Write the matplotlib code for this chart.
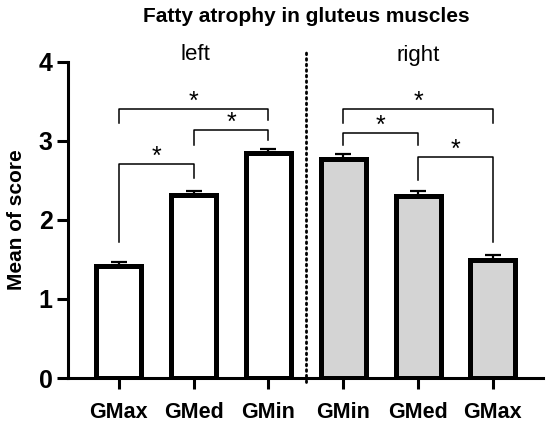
import matplotlib
matplotlib.use("Agg")
import matplotlib.pyplot as plt

plt.rcParams['font.family'] = ['Liberation Sans', 'DejaVu Sans']

categories = ["GMax", "GMed", "GMin", "GMin", "GMed", "GMax"]
means = [1.42, 2.31, 2.84, 2.77, 2.30, 1.49]
errors = [0.05, 0.06, 0.06, 0.06, 0.07, 0.06]
fills = ["white", "white", "white", "#d4d4d4", "#d4d4d4", "#d4d4d4"]
yticks = [0, 1, 2, 3, 4]

# brackets: (i, j, bar height, left leg bottom, right leg bottom)
brackets = [
    (0, 1, 2.71, 1.72, 2.53),
    (1, 2, 3.14, 2.95, 3.01),
    (0, 2, 3.40, 3.23, 3.26),
    (3, 5, 3.40, 3.22, 3.22),
    (3, 4, 3.10, 2.95, 2.95),
    (4, 5, 2.79, 2.50, 1.72),
]

fig = plt.figure(figsize=(5.5, 4.24), dpi=100)
ax = fig.add_axes([68/550, 1-378/424, (543-68)/550, (378-61.7)/424])

x = list(range(len(categories)))
ax.errorbar(x, means, yerr=[[0]*len(errors), errors], fmt='none', ecolor='black',
            elinewidth=1.6, capsize=5.5, capthick=1.6, zorder=1)
ax.bar(x, means, width=0.6, color=fills, edgecolor='black', linewidth=3.6, zorder=2)

for i, j, h, lb, rb in brackets:
    ax.plot([x[i], x[i], x[j], x[j]], [lb, h, h, rb], color='black', lw=1.1,
            clip_on=False, zorder=3)
    ax.text((x[i]+x[j])/2, h - 0.06, "*", ha='center', va='bottom',
            fontsize=18, fontweight='normal')

ax.plot([2.5, 2.5], [-0.05, 4.15], color='black', lw=2, linestyle=(0, (0.6, 1.4)),
        dash_capstyle='round', clip_on=False)

ax.set_xlim(-0.68, 5.67)
ax.set_ylim(0, 4)
ax.set_yticks(yticks)
ax.set_yticklabels([str(v) for v in yticks], fontsize=18, fontweight='bold')
ax.set_xticks(x)
ax.set_xticklabels(categories, fontsize=15.5, fontweight='bold')
ax.tick_params(axis='both', width=2.2, length=8)
ax.tick_params(axis='y', pad=3)
ax.tick_params(axis='x', pad=9)
for s in ['top', 'right']:
    ax.spines[s].set_visible(False)
for s in ['left', 'bottom']:
    ax.spines[s].set_linewidth(2.2)

ax.set_ylabel("Mean of score", fontsize=15, fontweight='bold', labelpad=9)
fig.text(306/550, 1-17/424, "Fatty atrophy in gluteus muscles", ha='center',
         va='center', fontsize=15, fontweight='bold')
fig.text(195/550, 1-55/424, "left", ha='center', va='center', fontsize=16)
fig.text(418/550, 1-55/424, "right", ha='center', va='center', fontsize=16)

fig.savefig("out.png", dpi=100)
